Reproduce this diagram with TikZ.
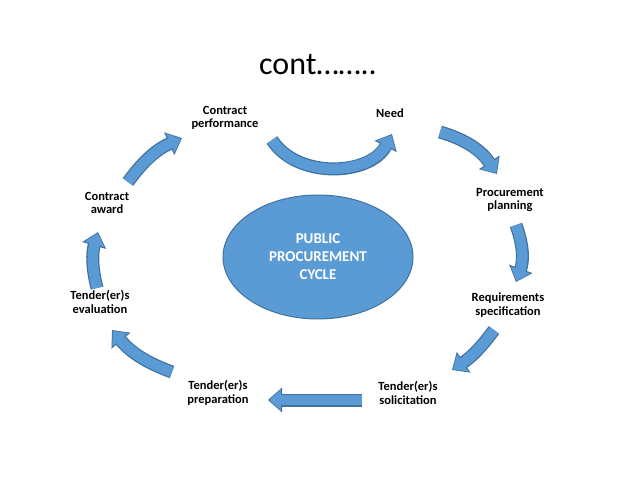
\documentclass[tikz,border=0pt]{standalone}
\usepackage{fontspec}
\setmainfont{Carlito}
\usetikzlibrary{arrows.meta,shapes.geometric}
\definecolor{ablue}{HTML}{5B9BD5}
\definecolor{oblue}{HTML}{41719C}
\tikzset{
  lbl/.style={font=\bfseries\fontsize{12.5}{13.5}\selectfont, align=center, text=black},
  outer/.style={draw=oblue, line width=13pt, -{Triangle[width=24pt,length=14pt]}},
  inner/.style={draw=ablue, line width=10.5pt, -{Triangle[width=20pt,length=11.5pt]}, shorten >=1.3pt},
}
\begin{document}
\begin{tikzpicture}[x=1pt,y=-1pt]
\useasboundingbox (0,0) rectangle (638,479);
\node (title) at (318,65) {\fontsize{32}{36}\selectfont cont……..};
\node[ellipse, minimum width=190pt, minimum height=124pt, fill=ablue, draw=oblue, line width=1pt, align=center, text=white, font=\bfseries\fontsize{15}{18}\selectfont] (c) at (318,257) {PUBLIC\\PROCUREMENT\\CYCLE};
\node[lbl] (cp) at (225,118) {Contract\\performance};
\node[lbl] (nd) at (390,113) {Need};
\node[lbl] (pp) at (510,200) {Procurement\\planning};
\node[lbl] (rs) at (508,305) {Requirements\\specification};
\node[lbl] (ts) at (408,393) {Tender(er)s\\solicitation};
\node[lbl] (tp) at (218,393) {Tender(er)s\\preparation};
\node[lbl] (te) at (100,302) {Tender(er)s\\evaluation};
\node[lbl] (ca) at (107,203) {Contract\\award};
\coordinate (a1s) at (272,140); \coordinate (a1e) at (392,134);
\coordinate (a2s) at (440,132); \coordinate (a2e) at (497,174);
\coordinate (a3s) at (516,225); \coordinate (a3e) at (516,282);
\coordinate (a4s) at (494,330); \coordinate (a4e) at (452,370);
\coordinate (a5s) at (362,400); \coordinate (a5e) at (268,400);
\coordinate (a6s) at (172,372); \coordinate (a6e) at (112,330);
\coordinate (a7s) at (97,288); \coordinate (a7e) at (98,232);
\coordinate (a8s) at (128,182); \coordinate (a8e) at (182,138);
\foreach \s/\e/\b in {a1s/a1e/60,a2s/a2e/-20,a3s/a3e/-20,a4s/a4e/-10,a5s/a5e/0,a6s/a6e/-15,a7s/a7e/-15,a8s/a8e/-15}{
  \draw[outer] (\s) to[bend right=\b] (\e);
  \draw[inner] (\s) to[bend right=\b] (\e);
}
\end{tikzpicture}
\end{document}
